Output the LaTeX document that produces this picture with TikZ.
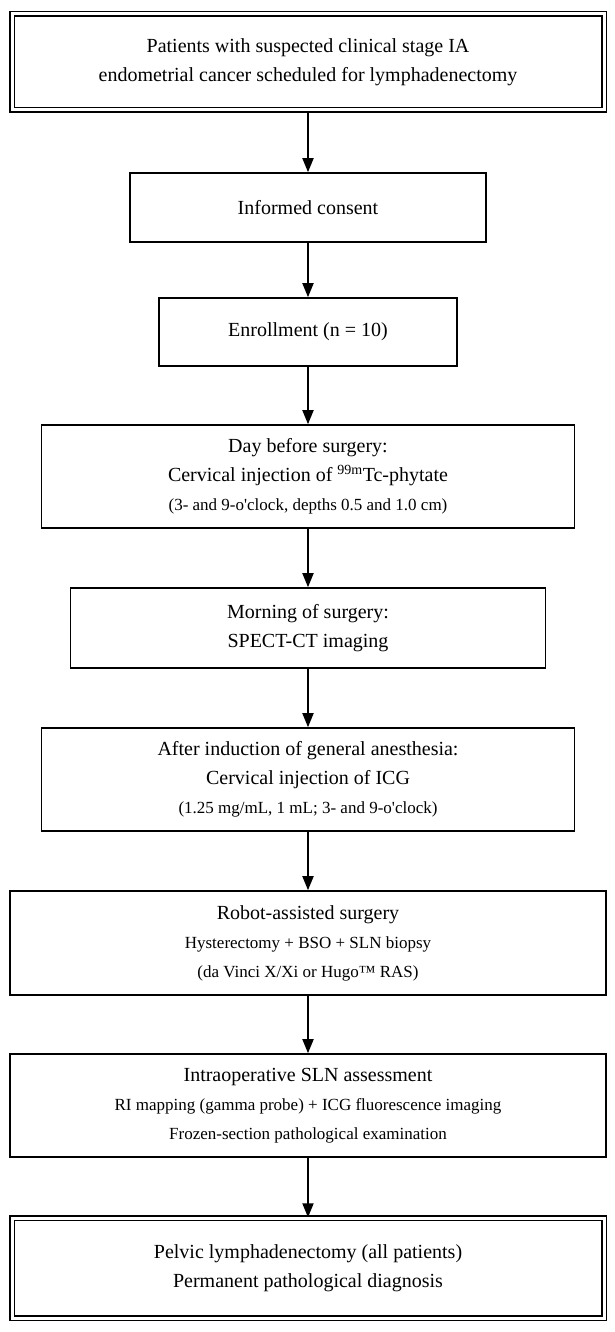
\documentclass[tikz,border=0pt]{standalone}
\usepackage{fontspec}
\setmainfont{Liberation Serif}
\usetikzlibrary{arrows.meta}
\newcommand{\sq}{\textquotesingle}
\newcommand{\smf}{\fontsize{17}{29}\selectfont}
\begin{document}
\begin{tikzpicture}[x=1pt,y=-1pt,
  box/.style={draw,line width=1.6pt,align=center,inner sep=0pt,font=\fontsize{20}{29}\selectfont},
  dbox/.style={box,double,double distance=3pt,line width=1.3pt},
  arr/.style={line width=1.8pt,-{Triangle[length=14pt,width=11pt]}}]
\useasboundingbox (0,0) rectangle (615,1332);
\node[dbox,minimum width=592,minimum height=96] (a) at (308,62) {Patients with suspected clinical stage IA\\endometrial cancer scheduled for lymphadenectomy};
\node[box,minimum width=356,minimum height=69] (b) at (308,207.5) {Informed consent};
\node[box,minimum width=298,minimum height=68] (c) at (308,332) {Enrollment (n = 10)};
\node[box,minimum width=533,minimum height=103] (d) at (308,476.5) {Day before surgery:\\Cervical injection of \textsuperscript{99m}Tc-phytate\\{\smf(3- and 9-o\sq clock, depths 0.5 and 1.0 cm)}};
\node[box,minimum width=475,minimum height=80] (e) at (308,628) {Morning of surgery:\\SPECT-CT imaging};
\node[box,minimum width=533,minimum height=103] (f) at (308,779.5) {After induction of general anesthesia:\\Cervical injection of ICG\\{\smf(1.25 mg/mL, 1 mL; 3- and 9-o\sq clock)}};
\node[box,minimum width=596,minimum height=104] (g) at (308,943) {Robot-assisted surgery\\{\smf Hysterectomy + BSO + SLN biopsy}\\{\smf(da Vinci X/Xi or Hugo™ RAS)}};
\node[box,minimum width=596,minimum height=103] (h) at (308,1105.5) {Intraoperative SLN assessment\\{\smf RI mapping (gamma probe) + ICG fluorescence imaging}\\{\smf Frozen-section pathological examination}};
\node[dbox,minimum width=592,minimum height=100] (i) at (308,1268) {Pelvic lymphadenectomy (all patients)\\Permanent pathological diagnosis};
\foreach \p/\q in {a/b,b/c,c/d,d/e,e/f,f/g,g/h,h/i} \draw[arr] (\p) -- (\q);
\end{tikzpicture}
\end{document}
